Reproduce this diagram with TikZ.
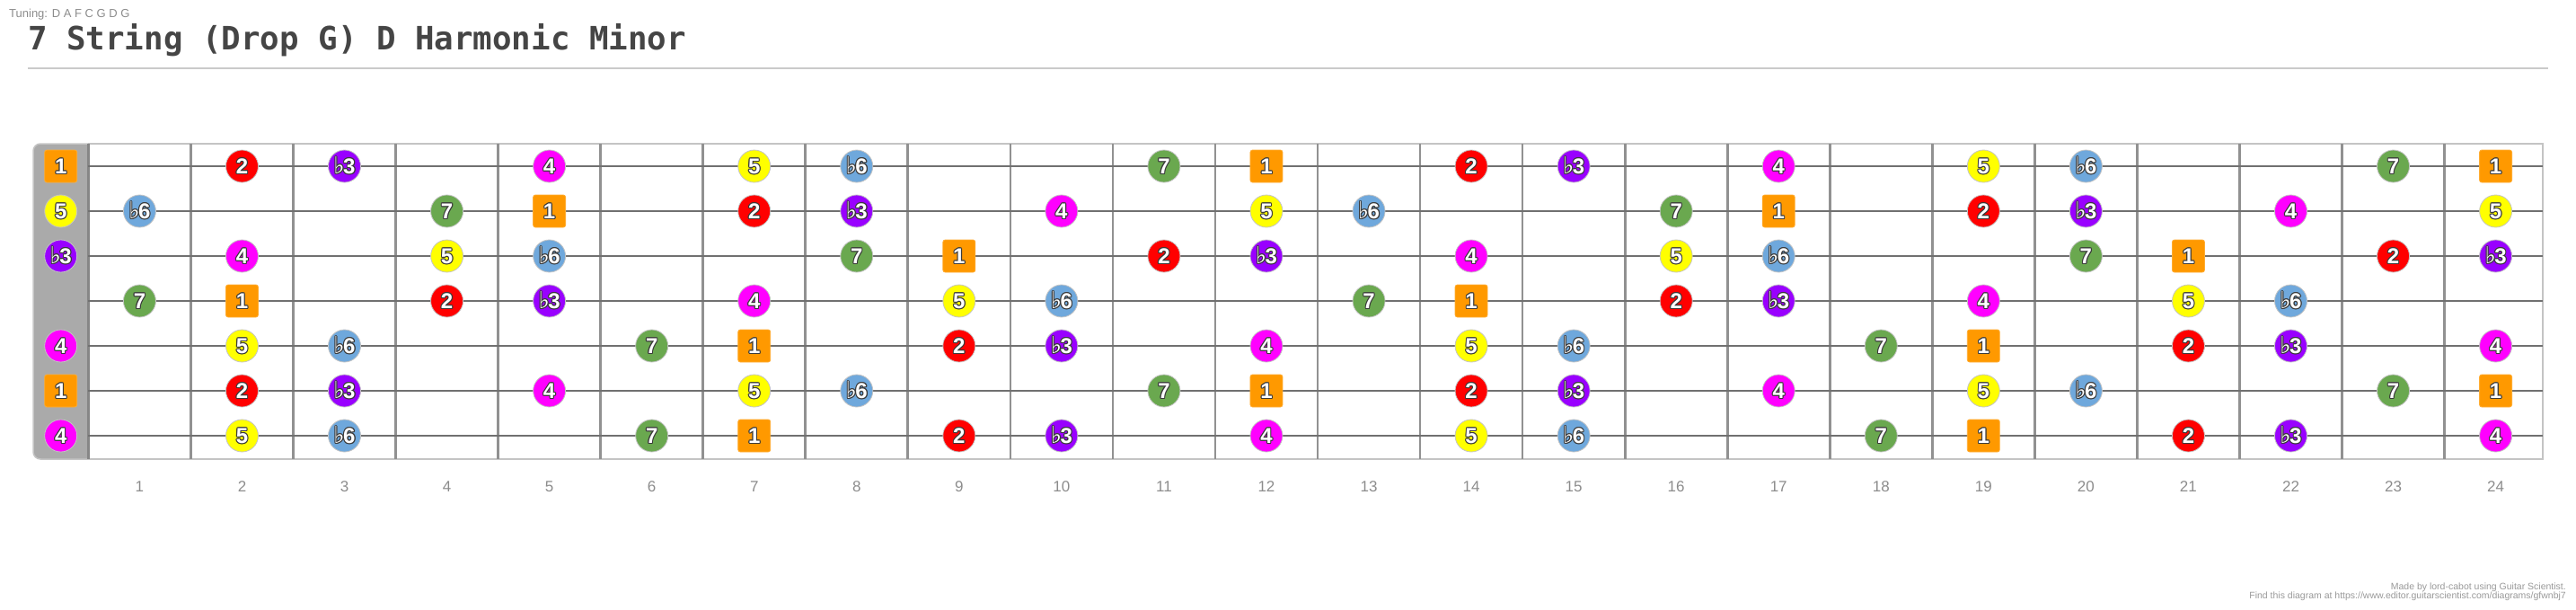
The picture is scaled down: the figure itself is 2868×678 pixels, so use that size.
\documentclass[tikz,border=0pt]{standalone}
\usepackage{fontspec}
\setmainfont{Liberation Sans}
\newfontfamily\titlef{DejaVu Sans Mono}
\newfontfamily\flatf{DejaVu Sans}
\definecolor{cone}{HTML}{FF9900}
\definecolor{ctwo}{HTML}{FF0000}
\definecolor{cthree}{HTML}{9900FF}
\definecolor{cfour}{HTML}{FF00FF}
\definecolor{cfive}{HTML}{FFFF00}
\definecolor{csix}{HTML}{6FA8DC}
\definecolor{cseven}{HTML}{6AA84F}
\definecolor{olc}{HTML}{3A3A3A}
\definecolor{nutc}{HTML}{AAAAAA}
\definecolor{bordc}{HTML}{C4C4C4}
\definecolor{fretc}{HTML}{919191}
\definecolor{strc}{HTML}{707070}
\definecolor{numc}{HTML}{8C8C8C}
\definecolor{titlec}{HTML}{454545}
\definecolor{smallc}{HTML}{999999}
\newdimen\olw \olw=1.1pt
\newcommand\olt[1]{\leavevmode
 \rlap{\color{olc}\kern\olw#1}%
 \rlap{\color{olc}\kern-\olw#1}%
 \rlap{\color{olc}\raisebox{\olw}{#1}}%
 \rlap{\color{olc}\raisebox{-\olw}{#1}}%
 \rlap{\color{olc}\kern.7\olw\raisebox{.7\olw}{#1}}%
 \rlap{\color{olc}\kern-.7\olw\raisebox{.7\olw}{#1}}%
 \rlap{\color{olc}\kern.7\olw\raisebox{-.7\olw}{#1}}%
 \rlap{\color{olc}\kern-.7\olw\raisebox{-.7\olw}{#1}}%
 {\color{white}#1}}
\newcommand\flatsym{{\flatf\fontsize{26}{26}\selectfont ♭}\kern-1.5pt}
\newcommand\deglab[1]{\ifcase#1\or 1\or 2\or \flatsym 3\or 4\or 5\or \flatsym 6\or 7\fi}
\tikzset{
 notebase/.style={inner sep=0pt, minimum size=36pt, text height=17pt, text depth=0pt,
   font=\bfseries\fontsize{24}{24}\selectfont},
 dot/.style={notebase, circle, draw=bordc, line width=0.8pt},
 deg1/.style={notebase, rectangle, rounded corners=2.5pt, fill=cone, draw=cone!80!white, line width=0.8pt},
 deg2/.style={dot, fill=ctwo},
 deg3/.style={dot, fill=cthree},
 deg4/.style={dot, fill=cfour},
 deg5/.style={dot, fill=cfive},
 deg6/.style={dot, fill=csix},
 deg7/.style={dot, fill=cseven},
 fretline/.style={draw=fretc, line width=2.7pt},
 strline/.style={draw=strc, line width=2.7pt},
 fretnum/.style={text=numc, font=\fontsize{17}{17}\selectfont, inner sep=0pt},
}
\newcommand\placenotes[2]{%
 \foreach \f/\d in {#2}{%
   \pgfmathsetmacro\xx{\f==0 ? 67.7 : 98.4+(\f-0.5)*114.05}%
   \node[deg\d] (n#1-\f) at (\xx,{135+50*#1}) {\olt{\deglab\d}};
 }}
\begin{document}
\begin{tikzpicture}[x=1pt,y=-1pt]
\useasboundingbox (0,0) rectangle (2868,678);
% header
\node[anchor=base west, inner sep=0pt, text=numc, font=\fontsize{13}{13}\selectfont] (tuning) at (10,19) {Tuning: D A F C G D G};
\node[anchor=base west, inner sep=0pt, text=titlec, font=\titlef\bfseries\fontsize{35.8}{35.8}\selectfont] (title) at (31,55) {7 String (Drop G) D Harmonic Minor};
\draw[draw=bordc!90!white, line width=2pt] (31,76) coordinate (rulea) -- (2837,76) coordinate (ruleb);
% board
\filldraw[fill=nutc, draw=bordc, line width=1.5pt, rounded corners=8pt] (37,160) rectangle (130,511);
\filldraw[fill=white, draw=bordc, line width=1.5pt] (98.4,160) rectangle (2831,511);
\draw[draw=fretc!110, line width=3pt] (98.4,160) -- (98.4,511);
\foreach \k in {1,...,23}{
  \draw[fretline] ({98.4+\k*114.05},160) -- ({98.4+\k*114.05},511);
}
\foreach \s in {1,...,7}{
  \draw[strline] (98.4,{135+50*\s}) -- (2831,{135+50*\s});
}
\foreach \k in {1,...,24}{
  \node[fretnum] (fn\k) at ({98.4+(\k-0.5)*114.05},542) {\k};
}
% notes
\placenotes{1}{0/1,2/2,3/3,5/4,7/5,8/6,11/7,12/1,14/2,15/3,17/4,19/5,20/6,23/7,24/1}
\placenotes{2}{0/5,1/6,4/7,5/1,7/2,8/3,10/4,12/5,13/6,16/7,17/1,19/2,20/3,22/4,24/5}
\placenotes{3}{0/3,2/4,4/5,5/6,8/7,9/1,11/2,12/3,14/4,16/5,17/6,20/7,21/1,23/2,24/3}
\placenotes{4}{1/7,2/1,4/2,5/3,7/4,9/5,10/6,13/7,14/1,16/2,17/3,19/4,21/5,22/6}
\placenotes{5}{0/4,2/5,3/6,6/7,7/1,9/2,10/3,12/4,14/5,15/6,18/7,19/1,21/2,22/3,24/4}
\placenotes{6}{0/1,2/2,3/3,5/4,7/5,8/6,11/7,12/1,14/2,15/3,17/4,19/5,20/6,23/7,24/1}
\placenotes{7}{0/4,2/5,3/6,6/7,7/1,9/2,10/3,12/4,14/5,15/6,18/7,19/1,21/2,22/3,24/4}
% footer
\node[anchor=base east, inner sep=0pt, text=smallc, font=\fontsize{10.5}{10.5}\selectfont] (made) at (2857,656) {Made by lord-cabot using Guitar Scientist.};
\node[anchor=base east, inner sep=0pt, text=smallc, font=\fontsize{10.5}{10.5}\selectfont] (find) at (2857,666) {Find this diagram at https://www.editor.guitarscientist.com/diagrams/gfwnbj7};
\end{tikzpicture}
\end{document}
